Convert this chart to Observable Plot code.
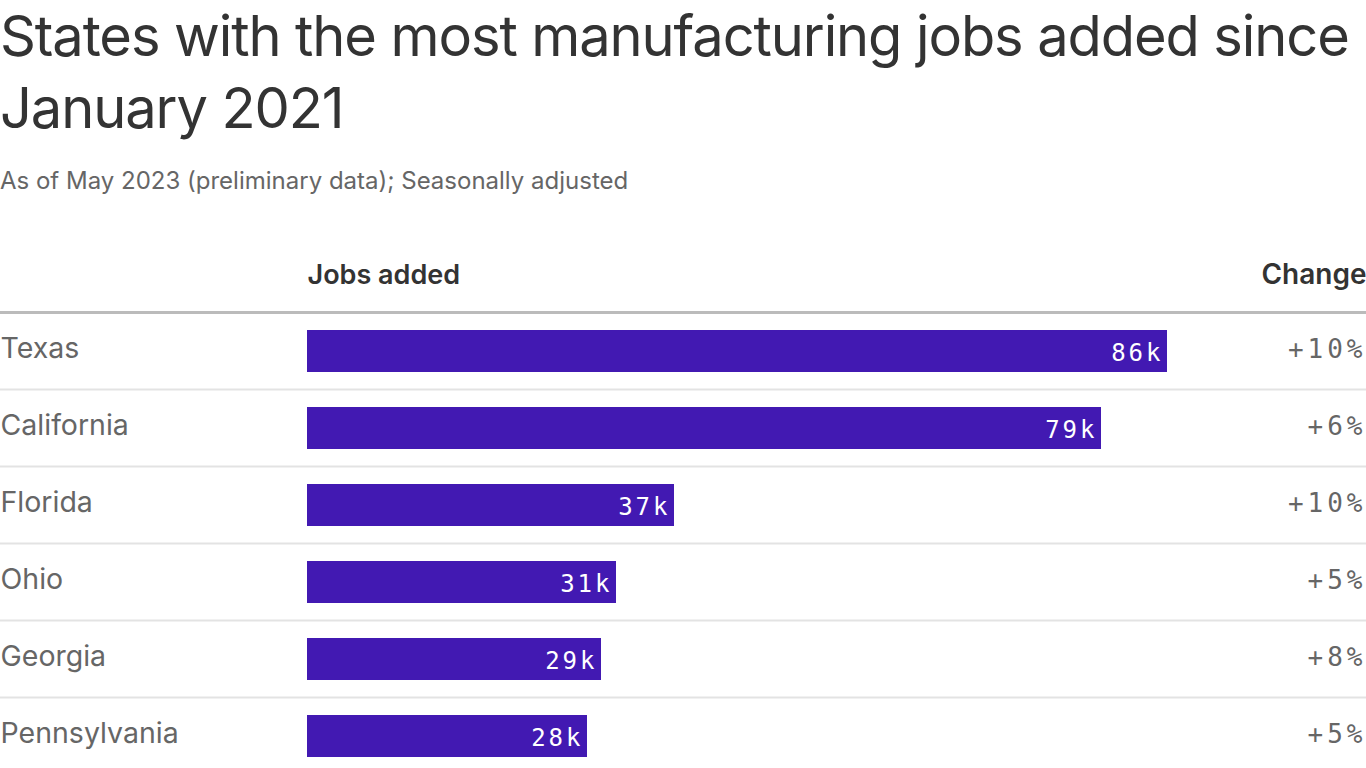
<!DOCTYPE html>
<html>
<head>
<meta charset="utf-8">
<script src="https://cdn.jsdelivr.net/npm/d3@7"></script>
<script src="https://cdn.jsdelivr.net/npm/@observablehq/plot@0.6"></script>
<style>
  html, body { margin: 0; padding: 0; background: #fff; }
  body { width: 1366px; height: 768px; overflow: hidden; position: relative; font-family: Inter, "Noto Sans", sans-serif; }
  h1 { position: absolute; top: 0; left: 0; margin: 0; font-weight: 400; font-size: 56px; line-height: 72px; color: #333; letter-spacing: -1.1px; white-space: nowrap; }
  .sub { position: absolute; top: 166px; left: 0; font-size: 24px; line-height: 30px; color: #666; white-space: nowrap; }
  #chart { position: absolute; top: 200px; left: 0; }
  #chart svg { display: block; }
  g[aria-description="bar-labels"] text { letter-spacing: 3px; }
  g[aria-description="change"] text { letter-spacing: 4px; }
</style>
</head>
<body>
<h1>States with the most manufacturing jobs added since<br>January 2021</h1>
<div class="sub">As of May 2023 (preliminary data); Seasonally adjusted</div>
<div id="chart"></div>
<script>
const states = ["Texas", "California", "Florida", "Ohio", "Georgia", "Pennsylvania"];
const jobsAdded = [86.0, 79.4, 36.7, 30.9, 29.4, 28.0]; // thousands
const changePct = ["+10%", "+6%", "+10%", "+5%", "+8%", "+5%"];
const headers = ["Jobs added", "Change"];

const rows = states.map((s, i) => ({state: s, jobs: jobsAdded[i], change: changePct[i]}));

const plot = Plot.plot({
  width: 1366,
  height: 576,
  marginTop: 112,
  marginBottom: 2,
  marginLeft: 0,
  marginRight: 0,
  x: {domain: [0, 86], range: [307, 1167], axis: null},
  y: {domain: states, padding: 0, axis: null},
  style: {fontFamily: "Inter, 'Noto Sans', sans-serif", background: "#fff", overflow: "visible"},
  marks: [
    Plot.frame({anchor: "top", stroke: "#bbb", strokeWidth: 3}),
    Plot.ruleY(rows, {y: "state", dy: 38.5, stroke: "#e3e3e3", strokeWidth: 2}),
    Plot.barX(rows, {x: "jobs", y: "state", fill: "#4219b2", insetTop: 18, insetBottom: 17}),
    Plot.text(rows, {
      x: "jobs", y: "state", text: d => Math.round(d.jobs) + "k",
      textAnchor: "end", dx: -4, dy: 2, fill: "#fff", fontSize: 24,
      fontFamily: "'DejaVu Sans Mono', monospace", ariaDescription: "bar-labels"
    }),
    Plot.text(rows, {
      y: "state", text: "state", frameAnchor: "left", textAnchor: "start",
      fontSize: 28.5, fill: "#666", dy: -2
    }),
    Plot.text(rows, {
      y: "state", text: "change", frameAnchor: "right", textAnchor: "end",
      fontSize: 26, fill: "#666", dx: 0, dy: -1,
      fontFamily: "'DejaVu Sans Mono', monospace", ariaDescription: "change"
    }),
    Plot.text([headers[0]], {
      x: 0, text: d => d, frameAnchor: "top", textAnchor: "start", lineAnchor: "bottom",
      dy: -29, fontSize: 27, fontWeight: 600, fill: "#333"
    }),
    Plot.text([headers[1]], {
      text: d => d, frameAnchor: "top-right", textAnchor: "end", lineAnchor: "bottom",
      dy: -29, fontSize: 28, fontWeight: 600, fill: "#333"
    })
  ]
});
document.getElementById("chart").appendChild(plot);
</script>
</body>
</html>
